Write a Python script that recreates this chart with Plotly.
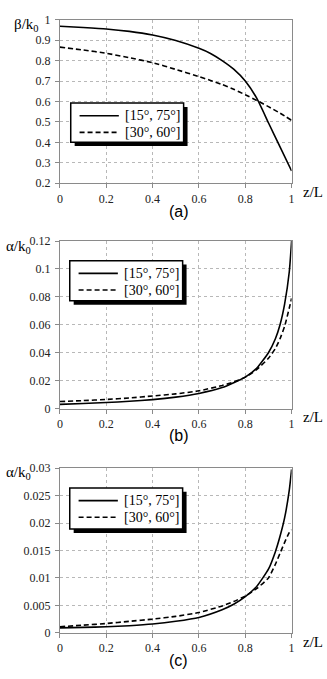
import plotly.graph_objects as go

W, H = 327, 679

# ---------------- data ----------------
z_a = [0, 0.1, 0.2, 0.3, 0.4, 0.5, 0.6, 0.65, 0.7, 0.75, 0.8, 0.85, 0.9, 0.95, 1.0]
beta_15_75 = [0.968, 0.962, 0.955, 0.943, 0.925, 0.898, 0.86, 0.835, 0.80, 0.758, 0.70, 0.615, 0.496, 0.378, 0.26]
beta_30_60 = [0.866, 0.852, 0.836, 0.814, 0.790, 0.757, 0.722, 0.703, 0.683, 0.66, 0.633, 0.605, 0.575, 0.543, 0.508]

z_bc = [0, 0.1, 0.2, 0.3, 0.4, 0.5, 0.6, 0.7, 0.75, 0.8, 0.85, 0.9, 0.93, 0.95, 0.97, 0.99, 1.0]
alpha_b_15_75 = [0.003, 0.0036, 0.0043, 0.0052, 0.0064, 0.0082, 0.0108, 0.015, 0.0185, 0.0225, 0.029, 0.040, 0.050, 0.060, 0.075, 0.098, 0.12]
alpha_b_30_60 = [0.005, 0.0057, 0.0065, 0.0076, 0.009, 0.0105, 0.0127, 0.0165, 0.019, 0.0225, 0.028, 0.036, 0.043, 0.050, 0.059, 0.072, 0.079]
alpha_c_15_75 = [0.0009, 0.001, 0.0011, 0.0013, 0.0016, 0.0021, 0.0028, 0.0042, 0.0052, 0.0066, 0.0085, 0.0116, 0.0148, 0.0176, 0.021, 0.026, 0.0298]
alpha_c_30_60 = [0.0011, 0.0014, 0.0017, 0.0021, 0.0025, 0.003, 0.0037, 0.0049, 0.0057, 0.0067, 0.0081, 0.0100, 0.0125, 0.0145, 0.0165, 0.0183, 0.0188]

series_names = ["[15°, 75°]", "[30°, 60°]"]
x_ticks = [0, 0.2, 0.4, 0.6, 0.8, 1]
x_ticklabels = ["0", "0.2", "0.4", "0.6", "0.8", "1"]
ya_ticks = [0.2, 0.3, 0.4, 0.5, 0.6, 0.7, 0.8, 0.9, 1.0]
ya_labels = ["0.2", "0.3", "0.4", "0.5", "0.6", "0.7", "0.8", "0.9", "1"]
yb_ticks = [0, 0.02, 0.04, 0.06, 0.08, 0.1, 0.12]
yb_labels = ["0", "0.02", "0.04", "0.06", "0.08", "0.1", "0.12"]
yc_ticks = [0, 0.005, 0.01, 0.015, 0.02, 0.025, 0.03]
yc_labels = ["0", "0.005", "0.01", "0.015", "0.02", "0.025", "0.03"]
panel_labels = ["(a)", "(b)", "(c)"]
y_titles = ["β/k<sub>0</sub>", "α/k<sub>0</sub>", "α/k<sub>0</sub>"]

# ---------------- layout helpers ----------------
def px_x(x):
    return x / W

def px_y(y):
    return 1 - y / H

X0, X1 = 58, 294
panels = [(13, 180), (239, 410), (471, 639)]  # top, bottom in px

SERIF = "Liberation Serif"
SANS = "Liberation Sans"
LINE_W = 1.6
DASH = "5px,3px"

fig = go.Figure()

data_sets = [
    (z_a, beta_15_75, beta_30_60),
    (z_bc, alpha_b_15_75, alpha_b_30_60),
    (z_bc, alpha_c_15_75, alpha_c_30_60),
]
for i, (zz, s1, s2) in enumerate(data_sets):
    xa = "x" if i == 0 else f"x{i+1}"
    ya = "y" if i == 0 else f"y{i+1}"
    fig.add_trace(go.Scatter(x=zz, y=s1, mode="lines", name=series_names[0],
                             line=dict(color="black", width=LINE_W, shape="spline", smoothing=0.5),
                             xaxis=xa, yaxis=ya, showlegend=False))
    fig.add_trace(go.Scatter(x=zz, y=s2, mode="lines", name=series_names[1],
                             line=dict(color="black", width=LINE_W, dash=DASH, shape="spline", smoothing=0.5),
                             xaxis=xa, yaxis=ya, showlegend=False))

y_specs = [
    ([0.2, 1.0], ya_ticks, ya_labels),
    ([0, 0.12], yb_ticks, yb_labels),
    ([0, 0.03], yc_ticks, yc_labels),
]

axis_common = dict(
    showline=True, linecolor="#8a8a8a", linewidth=1, mirror=True,
    showgrid=True, gridcolor="#b8b8b8", griddash="dot", gridwidth=1,
    ticks="outside", ticklen=4, tickcolor="#8a8a8a",
    tickfont=dict(family=SERIF, size=12, color="#222"),
    zeroline=False, fixedrange=True,
)

layout = dict(
    width=W, height=H, margin=dict(l=0, r=0, t=0, b=0),
    paper_bgcolor="white", plot_bgcolor="white", showlegend=False,
)

for i, ((top, bot), (yr, yt, yl)) in enumerate(zip(panels, y_specs)):
    xk = "xaxis" if i == 0 else f"xaxis{i+1}"
    yk = "yaxis" if i == 0 else f"yaxis{i+1}"
    ya = "y" if i == 0 else f"y{i+1}"
    xa = "x" if i == 0 else f"x{i+1}"
    layout[xk] = dict(axis_common, domain=[px_x(X0), px_x(X1)], range=[0, 1],
                      tickvals=x_ticks, ticktext=x_ticklabels, anchor=ya)
    layout[yk] = dict(axis_common, domain=[px_y(bot), px_y(top)], range=yr,
                      tickvals=yt, ticktext=yl, anchor=xa, ticklabelstandoff=2)

fig.update_layout(**layout)

annotations = []
shapes = []

label_y = [209, 438, 667]
title_y = [18, 245, 476]
legend_boxes = [(69, 98, 184, 138), (68, 259, 183, 300), (68, 491, 183, 533)]

for i, (top, bot) in enumerate(panels):
    # panel label
    annotations.append(dict(x=px_x(179), y=px_y(label_y[i]), xref="paper", yref="paper",
                            text=panel_labels[i], showarrow=False,
                            font=dict(family=SANS, size=16, color="black"),
                            xanchor="center", yanchor="middle"))
    # y title
    tx = 10 if i == 0 else 2
    annotations.append(dict(x=px_x(tx), y=px_y(title_y[i]), xref="paper", yref="paper",
                            text=y_titles[i], showarrow=False, borderpad=0,
                            font=dict(family=SERIF, size=15, color="black"),
                            xanchor="left", yanchor="middle"))
    # x title
    annotations.append(dict(x=px_x(304), y=px_y(bot + 9), xref="paper", yref="paper",
                            text="z/L", showarrow=False,
                            font=dict(family=SERIF, size=15, color="black"),
                            xanchor="left", yanchor="middle"))
    # legend box with shadow
    bx0, by0, bx1, by1 = legend_boxes[i]
    shapes.append(dict(type="rect", xref="paper", yref="paper",
                       x0=px_x(bx0 + 4), x1=px_x(bx1 + 4), y0=px_y(by1 + 4), y1=px_y(by0 + 4),
                       fillcolor="black", line=dict(width=0), layer="above"))
    shapes.append(dict(type="rect", xref="paper", yref="paper",
                       x0=px_x(bx0), x1=px_x(bx1), y0=px_y(by1), y1=px_y(by0),
                       fillcolor="white", line=dict(color="black", width=1.5), layer="above"))
    for j, name in enumerate(series_names):
        ly = by0 + 13 + j * 17
        shapes.append(dict(type="line", xref="paper", yref="paper",
                           x0=px_x(bx0 + 9), x1=px_x(bx0 + 49), y0=px_y(ly), y1=px_y(ly),
                           line=dict(color="black", width=LINE_W, dash="solid" if j == 0 else DASH),
                           layer="above"))
        annotations.append(dict(x=px_x(bx0 + 53), y=px_y(ly), xref="paper", yref="paper",
                                text=name, showarrow=False,
                                font=dict(family=SERIF, size=14, color="black"),
                                xanchor="left", yanchor="middle"))

fig.update_layout(annotations=annotations, shapes=shapes)

fig.write_html("out.html")
